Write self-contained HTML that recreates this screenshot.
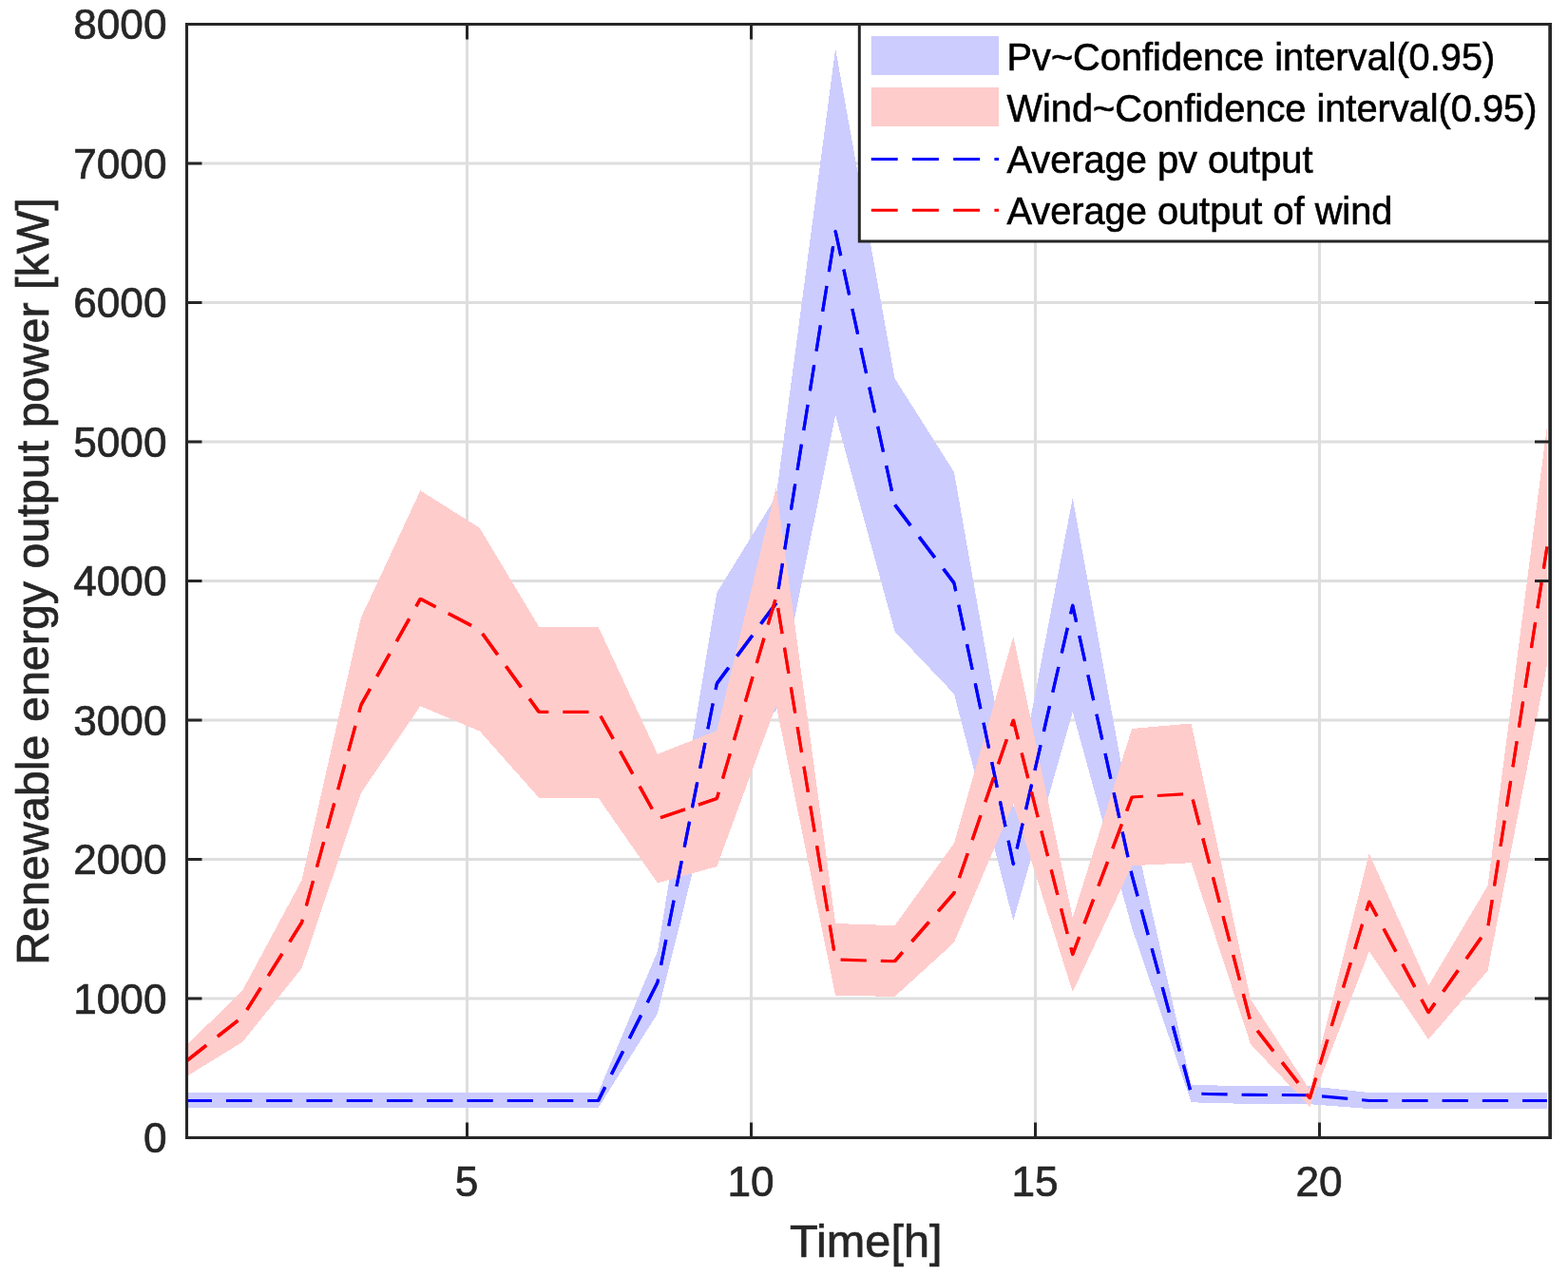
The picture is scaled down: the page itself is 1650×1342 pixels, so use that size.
<!DOCTYPE html>
<html lang="en"><head><meta charset="utf-8"><title>Renewable energy output power</title>
<style>
html,body{margin:0;padding:0;background:#fff;}
body{width:1650px;height:1342px;overflow:hidden;}
svg{display:block;}
text{font-family:"Liberation Sans",sans-serif;}
.tk{font-size:44.2px;fill:#262626;stroke:#262626;stroke-width:0.7px;}
.lb{font-size:48.7px;fill:#262626;stroke:#262626;stroke-width:0.7px;}
.lg{font-size:39.75px;fill:#000;stroke:#000;stroke-width:0.6px;}
</style></head><body>
<svg width="1650" height="1342" viewBox="0 0 1650 1342" role="img" aria-label="Renewable energy output power versus time">
<rect x="0" y="0" width="1650" height="1342" fill="#fff"/>
<defs><clipPath id="c"><rect x="198" y="25.5" width="1433" height="1172"/></clipPath></defs>
<g stroke="#dedede" stroke-width="3" fill="none">
<line x1="491.5" y1="25.5" x2="491.5" y2="1197.5"/>
<line x1="790.5" y1="25.5" x2="790.5" y2="1197.5"/>
<line x1="1089.5" y1="25.5" x2="1089.5" y2="1197.5"/>
<line x1="1388.5" y1="25.5" x2="1388.5" y2="1197.5"/>
<line x1="196.5" y1="1051" x2="1631" y2="1051"/>
<line x1="196.5" y1="904.5" x2="1631" y2="904.5"/>
<line x1="196.5" y1="758" x2="1631" y2="758"/>
<line x1="196.5" y1="611.5" x2="1631" y2="611.5"/>
<line x1="196.5" y1="465" x2="1631" y2="465"/>
<line x1="196.5" y1="318.5" x2="1631" y2="318.5"/>
<line x1="196.5" y1="172" x2="1631" y2="172"/>
</g>
<g clip-path="url(#c)">
<polygon shape-rendering="crispEdges" fill="#ccccff" points="192.75,1150 255.15,1150 317.55,1150 379.95,1150 442.35,1150 504.75,1150 567.15,1150 629.55,1150 691.95,1001.3 754.35,623.9 816.75,522.4 879.15,51.3 941.55,398.4 1003.95,496.8 1066.35,850.3 1128.75,524.1 1191.15,866.1 1253.55,1141.8 1315.95,1143.4 1378.35,1143.2 1440.75,1150 1503.15,1150 1565.55,1150 1627.95,1150 1627.95,1167 1565.55,1167 1503.15,1167 1440.75,1167 1378.35,1162.2 1315.95,1162 1253.55,1160.3 1191.15,976.6 1128.75,749.2 1066.35,969 1003.95,730.3 941.55,664.5 879.15,436.8 816.75,747.5 754.35,815.1 691.95,1066.7 629.55,1166 567.15,1166 504.75,1166 442.35,1166 379.95,1166 317.55,1166 255.15,1166 192.75,1166"/>
<polygon shape-rendering="crispEdges" fill="#ffcccc" points="192.75,1103.7 255.15,1042.6 317.55,926.5 379.95,650 442.35,516.4 504.75,555.7 567.15,659.7 629.55,659.7 691.95,793.8 754.35,769.1 816.75,513 879.15,972 941.55,974.2 1003.95,887.6 1066.35,670.1 1128.75,965.8 1191.15,767 1253.55,761.5 1315.95,1051.7 1378.35,1147.4 1440.75,898.3 1503.15,1037.6 1565.55,932.3 1627.95,448.4 1627.95,700 1565.55,1021.7 1503.15,1094 1440.75,1001.2 1378.35,1165 1315.95,1098.9 1253.55,908.2 1191.15,911.2 1128.75,1044 1066.35,845.9 1003.95,992.1 941.55,1048.9 879.15,1047.7 816.75,742.2 754.35,912 691.95,929.4 629.55,839.7 567.15,839.7 504.75,769.5 442.35,743.2 379.95,834.4 317.55,1019.2 255.15,1096.8 192.75,1135.2"/>
<path d="M195.7 1158.45 L255.15 1158.45 L317.55 1158.45 L379.95 1158.45 L442.35 1158.45 L504.75 1158.45 L567.15 1158.45 L629.55 1158.45 L691.95 1034 L754.35 719.5 L816.75 634.9 L879.15 243.4 L941.55 531.2 L1003.95 613.6 L1066.35 909.7 L1128.75 637.1 L1191.15 921.3 L1253.55 1151.1 L1315.95 1152.4 L1378.35 1152.7 L1440.75 1158.45 L1503.15 1158.45 L1565.55 1158.45 L1627.95 1158.45" fill="none" stroke="#0000ff" stroke-width="3.1" stroke-dasharray="27.3 14.95" stroke-linejoin="round"/>
<path d="M629.55 1158.45 L691.95 1034" fill="none" stroke="#0000ff" stroke-width="3.49" stroke-dasharray="27.3 14.95" stroke-dashoffset="11.35"/>
<path d="M691.95 1034 L754.35 719.5" fill="none" stroke="#0000ff" stroke-width="3.19" stroke-dasharray="27.3 14.95" stroke-dashoffset="23.82"/>
<path d="M754.35 719.5 L816.75 634.9" fill="none" stroke="#0000ff" stroke-width="3.65" stroke-dasharray="27.3 14.95" stroke-dashoffset="6.45"/>
<path d="M816.75 634.9 L879.15 243.4" fill="none" stroke="#0000ff" stroke-width="3.16" stroke-dasharray="27.3 14.95" stroke-dashoffset="27.07"/>
<path d="M879.15 243.4 L941.55 531.2" fill="none" stroke="#0000ff" stroke-width="3.2" stroke-dasharray="27.3 14.95" stroke-dashoffset="1.01"/>
<path d="M941.55 531.2 L1003.95 613.6" fill="none" stroke="#0000ff" stroke-width="3.66" stroke-dasharray="27.3 14.95" stroke-dashoffset="42"/>
<path d="M1003.95 613.6 L1066.35 909.7" fill="none" stroke="#0000ff" stroke-width="3.2" stroke-dasharray="27.3 14.95" stroke-dashoffset="18.61"/>
<path d="M1066.35 909.7 L1128.75 637.1" fill="none" stroke="#0000ff" stroke-width="3.21" stroke-dasharray="27.3 14.95" stroke-dashoffset="25.47"/>
<path d="M1128.75 637.1 L1191.15 921.3" fill="none" stroke="#0000ff" stroke-width="3.21" stroke-dasharray="27.3 14.95" stroke-dashoffset="9.37"/>
<path d="M1191.15 921.3 L1253.55 1151.1" fill="none" stroke="#0000ff" stroke-width="3.25" stroke-dasharray="27.3 14.95" stroke-dashoffset="4.59"/>
<path d="M195.7 1117.18 L255.15 1070.4 L317.55 971 L379.95 741.9 L442.35 630.3 L504.75 662.95 L567.15 749.4 L629.55 749.4 L691.95 861.7 L754.35 840.5 L816.75 628.3 L879.15 1010 L941.55 1011.8 L1003.95 940 L1066.35 758 L1128.75 1004.7 L1191.15 839 L1253.55 835.4 L1315.95 1075.6 L1378.35 1155.7 L1440.75 949 L1503.15 1065.6 L1565.55 977.2 L1627.95 575.6" fill="none" stroke="#ff0000" stroke-width="3.1" stroke-dasharray="27.3 14.95" stroke-linejoin="round"/>
<path d="M195.7 1117.18 L255.15 1070.4" fill="none" stroke="#ff0000" stroke-width="3.67" stroke-dasharray="27.3 14.95" stroke-dashoffset="0"/>
<path d="M255.15 1070.4 L317.55 971" fill="none" stroke="#ff0000" stroke-width="3.59" stroke-dasharray="27.3 14.95" stroke-dashoffset="33.4"/>
<path d="M317.55 971 L379.95 741.9" fill="none" stroke="#ff0000" stroke-width="3.25" stroke-dasharray="27.3 14.95" stroke-dashoffset="24.01"/>
<path d="M379.95 741.9 L442.35 630.3" fill="none" stroke="#ff0000" stroke-width="3.54" stroke-dasharray="27.3 14.95" stroke-dashoffset="7.96"/>
<path d="M442.35 630.3 L504.75 662.95" fill="none" stroke="#ff0000" stroke-width="3.5" stroke-dasharray="27.3 14.95" stroke-dashoffset="9.07"/>
<path d="M504.75 662.95 L567.15 749.4" fill="none" stroke="#ff0000" stroke-width="3.64" stroke-dasharray="27.3 14.95" stroke-dashoffset="37.24"/>
<path d="M629.55 749.4 L691.95 861.7" fill="none" stroke="#ff0000" stroke-width="3.53" stroke-dasharray="27.3 14.95" stroke-dashoffset="37.26"/>
<path d="M691.95 861.7 L754.35 840.5" fill="none" stroke="#ff0000" stroke-width="3.32" stroke-dasharray="27.3 14.95" stroke-dashoffset="38.98"/>
<path d="M754.35 840.5 L816.75 628.3" fill="none" stroke="#ff0000" stroke-width="3.28" stroke-dasharray="27.3 14.95" stroke-dashoffset="20.39"/>
<path d="M816.75 628.3 L879.15 1010" fill="none" stroke="#ff0000" stroke-width="3.16" stroke-dasharray="27.3 14.95" stroke-dashoffset="30.32"/>
<path d="M941.55 1011.8 L1003.95 940" fill="none" stroke="#ff0000" stroke-width="3.69" stroke-dasharray="27.3 14.95" stroke-dashoffset="14.76"/>
<path d="M1003.95 940 L1066.35 758" fill="none" stroke="#ff0000" stroke-width="3.33" stroke-dasharray="27.3 14.95" stroke-dashoffset="25.39"/>
<path d="M1066.35 758 L1128.75 1004.7" fill="none" stroke="#ff0000" stroke-width="3.24" stroke-dasharray="27.3 14.95" stroke-dashoffset="6.54"/>
<path d="M1128.75 1004.7 L1191.15 839" fill="none" stroke="#ff0000" stroke-width="3.36" stroke-dasharray="27.3 14.95" stroke-dashoffset="7.51"/>
<path d="M1253.55 835.4 L1315.95 1075.6" fill="none" stroke="#ff0000" stroke-width="3.24" stroke-dasharray="27.3 14.95" stroke-dashoffset="35.82"/>
<path d="M1315.95 1075.6 L1378.35 1155.7" fill="none" stroke="#ff0000" stroke-width="3.66" stroke-dasharray="27.3 14.95" stroke-dashoffset="30.5"/>
<path d="M1378.35 1155.7 L1440.75 949" fill="none" stroke="#ff0000" stroke-width="3.28" stroke-dasharray="27.3 14.95" stroke-dashoffset="5.28"/>
<path d="M1440.75 949 L1503.15 1065.6" fill="none" stroke="#ff0000" stroke-width="3.52" stroke-dasharray="27.3 14.95" stroke-dashoffset="9.95"/>
<path d="M1503.15 1065.6 L1565.55 977.2" fill="none" stroke="#ff0000" stroke-width="3.63" stroke-dasharray="27.3 14.95" stroke-dashoffset="15.44"/>
<path d="M1565.55 977.2 L1627.95 575.6" fill="none" stroke="#ff0000" stroke-width="3.16" stroke-dasharray="27.3 14.95" stroke-dashoffset="39.15"/>
</g>
<g stroke="#262626" stroke-width="3" fill="none">
<line x1="491.5" y1="1197.5" x2="491.5" y2="1181.5"/>
<line x1="491.5" y1="25.5" x2="491.5" y2="41.5"/>
<line x1="790.5" y1="1197.5" x2="790.5" y2="1181.5"/>
<line x1="790.5" y1="25.5" x2="790.5" y2="41.5"/>
<line x1="1089.5" y1="1197.5" x2="1089.5" y2="1181.5"/>
<line x1="1089.5" y1="25.5" x2="1089.5" y2="41.5"/>
<line x1="1388.5" y1="1197.5" x2="1388.5" y2="1181.5"/>
<line x1="1388.5" y1="25.5" x2="1388.5" y2="41.5"/>
<line x1="196.5" y1="1051" x2="212.5" y2="1051"/>
<line x1="1631" y1="1051" x2="1615" y2="1051"/>
<line x1="196.5" y1="904.5" x2="212.5" y2="904.5"/>
<line x1="1631" y1="904.5" x2="1615" y2="904.5"/>
<line x1="196.5" y1="758" x2="212.5" y2="758"/>
<line x1="1631" y1="758" x2="1615" y2="758"/>
<line x1="196.5" y1="611.5" x2="212.5" y2="611.5"/>
<line x1="1631" y1="611.5" x2="1615" y2="611.5"/>
<line x1="196.5" y1="465" x2="212.5" y2="465"/>
<line x1="1631" y1="465" x2="1615" y2="465"/>
<line x1="196.5" y1="318.5" x2="212.5" y2="318.5"/>
<line x1="1631" y1="318.5" x2="1615" y2="318.5"/>
<line x1="196.5" y1="172" x2="212.5" y2="172"/>
<line x1="1631" y1="172" x2="1615" y2="172"/>
</g>
<rect x="904.3" y="25.5" width="726.7" height="228.5" fill="#fff" stroke="none"/>
<rect x="916.8" y="38" width="134.3" height="41" fill="#ccccff"/>
<rect x="916.8" y="92" width="134.3" height="41" fill="#ffcccc"/>
<path d="M916.8 167.5 H1051.1" fill="none" stroke="#0000ff" stroke-width="3.1" stroke-dasharray="27.9 15.3"/>
<path d="M916.8 221.3 H1051.1" fill="none" stroke="#ff0000" stroke-width="3.1" stroke-dasharray="27.9 15.3"/>
<text class="lg" x="1059.5" y="73.7">Pv~Confidence interval(0.95)</text>
<text class="lg" x="1059.5" y="128">Wind~Confidence interval(0.95)</text>
<text class="lg" x="1059.5" y="182.2">Average pv output</text>
<text class="lg" x="1059.5" y="236.4">Average output of wind</text>
<path d="M904.3 25.5 V254 H1631" fill="none" stroke="#262626" stroke-width="3"/>
<g fill="#262626">
<rect x="194.95" y="24" width="3.1" height="1175"/>
<rect x="1629.3" y="24" width="3.7" height="1175"/>
<rect x="194.95" y="24" width="1438.05" height="3"/>
<rect x="194.95" y="1196" width="1438.05" height="3"/>
</g>
<text class="tk" text-anchor="end" x="175.5" y="1213.2">0</text>
<text class="tk" text-anchor="end" x="175.5" y="1066.7">1000</text>
<text class="tk" text-anchor="end" x="175.5" y="920.2">2000</text>
<text class="tk" text-anchor="end" x="175.5" y="773.7">3000</text>
<text class="tk" text-anchor="end" x="175.5" y="627.2">4000</text>
<text class="tk" text-anchor="end" x="175.5" y="480.7">5000</text>
<text class="tk" text-anchor="end" x="175.5" y="334.2">6000</text>
<text class="tk" text-anchor="end" x="175.5" y="187.7">7000</text>
<text class="tk" text-anchor="end" x="175.5" y="41.2">8000</text>
<text class="tk" text-anchor="middle" x="491" y="1258.6">5</text>
<text class="tk" text-anchor="middle" x="790" y="1258.6">10</text>
<text class="tk" text-anchor="middle" x="1089" y="1258.6">15</text>
<text class="tk" text-anchor="middle" x="1388" y="1258.6">20</text>
<text class="lb" text-anchor="middle" x="911.3" y="1323.1">Time[h]</text>
<text class="lb" style="font-size:48.45px" text-anchor="middle" transform="translate(50.6 612.0) rotate(-90)">Renewable energy output power [kW]</text>
</svg>
</body></html>
